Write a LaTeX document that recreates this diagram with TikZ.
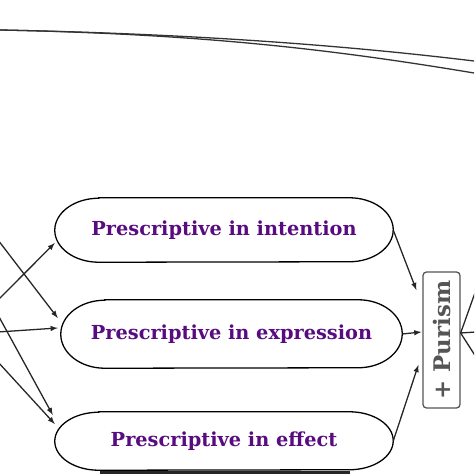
\documentclass[tikz,border=0pt]{standalone}
\usepackage{fontspec}
\setmainfont{DejaVu Serif}
\usetikzlibrary{calc}
\begin{document}
\begin{tikzpicture}[x=0.03cm,y=0.03cm,>=latex]
% Define colors
\definecolor{label}{RGB}{88,12,128}
\definecolor{purism}{RGB}{85,85,85}
\tikzset{
  mode/.style={inner sep=0pt,text=label,font=\bfseries\fontsize{16.5}{19}\selectfont},
  link/.style={->,line width=1.1pt,black!85},
}
\useasboundingbox (0,0) rectangle (474,474);
\clip (0,0) rectangle (474,474);

% Draw curves at the top
\draw[line width=1.1pt,black!80] (0,444) .. controls (200,440) and (350,428) .. (474,413);
\draw[line width=1.1pt,black!80] (0,444) .. controls (200,440) and (330,425) .. (474,401);

% Draw modes
\node[mode,minimum width=10.14cm,minimum height=1.92cm] (int) at (224,244) {Prescriptive in intention};
\node[mode,minimum width=10.23cm,minimum height=2.04cm] (expr) at (231.5,140) {Prescriptive in expression};
\node[mode,minimum width=10.14cm,minimum height=1.74cm] (eff) at (224,33) {Prescriptive in effect};
\foreach \n/\h in {int/32,expr/34,eff/29}
  \draw[line width=1.1pt] ($(\n.north west)+(44,0)$) -- ($(\n.north east)+(-44,0)$)
    arc[start angle=90,end angle=-90,x radius=44,y radius=\h]
    -- ($(\n.south west)+(44,0)$)
    arc[start angle=270,end angle=90,x radius=44,y radius=\h] -- cycle;
\fill[black!85] (100,0) rectangle (350,3);

% Draw purism box
\node[draw=purism,line width=1.1pt,rounded corners=3,minimum width=1.11cm,minimum height=4.08cm] (pur) at (441.5,134) {};
\node[rotate=90,text=purism,font=\bfseries\fontsize{19.5}{22}\selectfont] (purtext) at (pur) {+ Purism};

% Draw arrows into modes
\coordinate (s1) at (-2,234);
\coordinate (s2) at (-2,174);
\coordinate (s3) at (-2,159);
\coordinate (s4) at (-2,142);
\coordinate (s5) at (-2,112);
\draw[link] (s1) -- ($(expr.west)+(-3,16)$);
\draw[link] (s2) -- ($(int.west)+(0,-13)$);
\draw[link] (s3) -- ($(eff.west)+(-2,26)$);
\draw[link] (s4) -- ($(expr.west)+(-3,6)$);
\draw[link] (s5) -- ($(eff.west)+(0,17)$);

% Draw arrows into purism
\draw[link] (int.east) -- ($(pur.west)+(-6,50)$);
\draw[link] (expr.east) -- ($(pur.west)+(-1,8)$);
\draw[link] (eff.east) -- ($(pur.west)+(-4,-25)$);

% Draw lines out of purism
\coordinate (fan) at ($(pur.east)+(0,7)$);
\coordinate (t1) at (476,184);
\coordinate (t2) at (476,142);
\coordinate (t3) at (476,117);
\foreach \t in {t1,t2,t3}
  \draw[line width=1.1pt,black!85] (fan) -- (\t);
\end{tikzpicture}
\end{document}
